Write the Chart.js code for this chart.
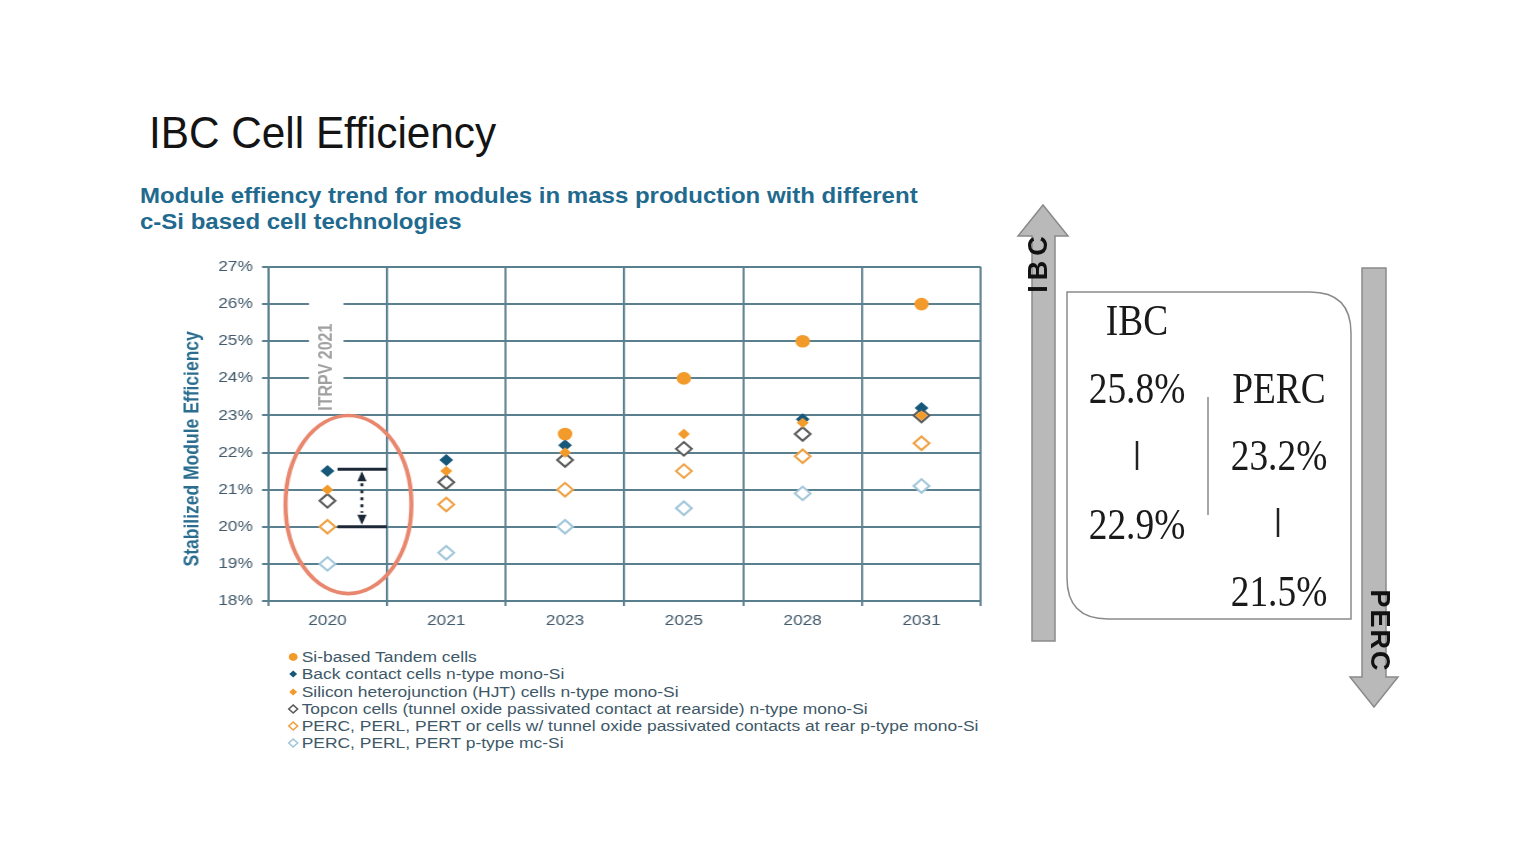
<!DOCTYPE html>
<html>
<head>
<meta charset="utf-8">
<script src="https://cdn.jsdelivr.net/npm/chart.js@4.4.0/dist/chart.umd.min.js"></script>
<style>
  body { margin: 0; background: #fff; width: 1536px; height: 864px; position: relative; overflow: hidden; font-family: "Liberation Sans", Arial, sans-serif; }
  #title { position: absolute; left: 149px; top: 110px; font-size: 45px; line-height: 1; color: #141414; transform: scaleX(0.94); transform-origin: left top; white-space: nowrap; }
  #sub { position: absolute; left: 140px; top: 183px; font-size: 22.5px; font-weight: bold; color: #1f6a8e; line-height: 26px; transform: scaleX(1.067); transform-origin: left top; white-space: nowrap; }
  #wrap { position: absolute; left: 180px; top: 250px; }
  #legend { position: absolute; left: 287px; top: 648px; font-size: 15.5px; color: #3e5867; line-height: 17.3px; transform: scaleX(1.125); transform-origin: left top; }
  #legend div { white-space: nowrap; }
  #legend svg { width: 11px; height: 12px; vertical-align: -1px; margin-right: 2px; }
  #side { position: absolute; left: 0; top: 0; }
</style>
</head>
<body>
<div id="title">IBC Cell Efficiency</div>
<div id="sub">Module effiency trend for modules in mass production with different<br>c-Si based cell technologies</div>
<div id="wrap"><canvas id="chart" width="705" height="391" style="width:811px;height:391px"></canvas></div>
<div id="legend"></div>

<svg id="side" width="1536" height="864" xmlns="http://www.w3.org/2000/svg">
  <!-- up arrow -->
  <polygon points="1032,641 1055,641 1055,236 1068,236 1043,205 1018,236 1032,236" fill="#b9b9b9" stroke="#8a8a8a" stroke-width="1.5"/>
  <text transform="translate(1040,262) rotate(-90)" text-anchor="middle" dominant-baseline="middle" font-family="Liberation Sans" font-weight="bold" font-size="27" letter-spacing="5" fill="#111">IBC</text>
  <!-- down arrow -->
  <polygon points="1362,268 1386,268 1386,677 1398,677 1374,707 1350,677 1362,677" fill="#b9b9b9" stroke="#8a8a8a" stroke-width="1.5"/>
  <text transform="translate(1378,631) rotate(90)" text-anchor="middle" dominant-baseline="middle" font-family="Liberation Sans" font-weight="bold" font-size="27" letter-spacing="2" fill="#111">PERC</text>
  <!-- box -->
  <path d="M1067,292 H1310 Q1351,292 1351,333 V619 H1108 Q1067,619 1067,578 Z" fill="#fff" stroke="#8a8a8a" stroke-width="1.5"/>
  <line x1="1208" y1="397" x2="1208" y2="515" stroke="#888" stroke-width="1.5"/>
  <g font-family="Liberation Serif" font-size="44" fill="#1a1a1a" text-anchor="middle">
    <text transform="translate(1137,335) scale(0.85,1)">IBC</text>
    <text transform="translate(1137,403) scale(0.85,1)">25.8%</text>
    <text transform="translate(1137,539) scale(0.85,1)">22.9%</text>
    <text transform="translate(1279,403) scale(0.85,1)">PERC</text>
    <text transform="translate(1279,470) scale(0.85,1)">23.2%</text>
    <text transform="translate(1279,606) scale(0.85,1)">21.5%</text>
  </g>
  <line x1="1137" y1="441" x2="1137" y2="470" stroke="#222" stroke-width="2.5"/>
  <line x1="1278" y1="508" x2="1278" y2="537" stroke="#222" stroke-width="2.5"/>
</svg>

<script>
const years = ['2020', '2021', '2023', '2025', '2028', '2031'];
const tandem = [null, null, 22.5, 24.0, 25.0, 26.0];
const backContact = [21.5, 21.8, 22.2, null, 22.9, 23.2];
const hjt = [21.0, 21.5, 22.0, 22.5, 22.8, 23.0];
const topcon = [20.7, 21.2, 21.8, 22.1, 22.5, 23.0];
const percMono = [20.0, 20.6, 21.0, 21.5, 21.9, 22.25];
const percMc = [19.0, 19.3, 20.0, 20.5, 20.9, 21.1];
const yTicks = [18, 19, 20, 21, 22, 23, 24, 25, 26, 27];

const seriesNames = [
  'Si-based Tandem cells',
  'Back contact cells n-type mono-Si',
  'Silicon heterojunction (HJT) cells n-type mono-Si',
  'Topcon cells (tunnel oxide passivated contact at rearside) n-type mono-Si',
  'PERC, PERL, PERT or cells w/ tunnel oxide passivated contacts at rear p-type mono-Si',
  'PERC, PERL, PERT p-type mc-Si'
];
const yTitle = 'Stabilized Module Efficiency';

// annotation values (data units)
const ITRPV_MID = 24.3, ITRPV_TOP = 26.5, ITRPV_BOTTOM = 23.05;
const RANGE_HIGH = 21.55, RANGE_LOW = 20.0;
const ELLIPSE_Y = 20.6, ELLIPSE_RY = 2.4;
const Y_TITLE_MID = 22.1;

// the source picture is stretched sideways; canvas is drawn narrow and widened by css
const STRETCH = 1.15;

const orange = '#f29a2a';
const teal = '#17587a';
const grid = '#5a7f8e';

const styles = [
  { pointStyle: 'circle', r: 6.3, fill: orange, stroke: orange, bw: 0, order: 0 },
  { pointStyle: 'rectRot', r: 6, fill: teal, stroke: teal, bw: 0, order: 2 },
  { pointStyle: 'rectRot', r: 5.2, fill: orange, stroke: orange, bw: 0, order: 1 },
  { pointStyle: 'rectRot', r: 6.8, fill: '#fff', stroke: '#5b5b5b', bw: 2, order: 3 },
  { pointStyle: 'rectRot', r: 6.8, fill: '#fff', stroke: '#eea245', bw: 2, order: 4 },
  { pointStyle: 'rectRot', r: 6.8, fill: '#fff', stroke: '#a2c7da', bw: 2, order: 5 }
];
const values = [tandem, backContact, hjt, topcon, percMono, percMc];

const datasets = values.map((d, i) => ({
  label: seriesNames[i],
  data: d,
  showLine: false,
  order: styles[i].order,
  pointStyle: styles[i].pointStyle,
  pointRadius: styles[i].r,
  pointHoverRadius: styles[i].r,
  pointBackgroundColor: styles[i].fill,
  pointBorderColor: styles[i].stroke,
  pointBorderWidth: styles[i].bw,
  borderColor: styles[i].stroke,
  backgroundColor: styles[i].fill
}));

const annot = {
  id: 'annot',
  beforeDatasetsDraw(chart) {
    const { ctx, scales: { x, y } } = chart;
    const cx = x.getPixelForValue(0);
    const top = y.getPixelForValue(ITRPV_TOP);
    const bot = y.getPixelForValue(ITRPV_BOTTOM);
    ctx.save();
    ctx.fillStyle = '#fff';
    ctx.fillRect(cx - 16, top, 30, bot - top);
    ctx.translate(cx - 1, y.getPixelForValue(ITRPV_MID));
    ctx.rotate(-Math.PI / 2);
    ctx.fillStyle = '#a0a0a0';
    ctx.font = 'bold 16px "Liberation Sans"';
    ctx.textAlign = 'center';
    ctx.textBaseline = 'middle';
    ctx.fillText('ITRPV 2021', 0, 0);
    ctx.restore();

    // y axis title, sits a little below the middle of the axis in the source
    ctx.save();
    ctx.translate(y.left + 11.5, y.getPixelForValue(Y_TITLE_MID));
    ctx.rotate(-Math.PI / 2);
    ctx.fillStyle = '#2a6d8f';
    ctx.font = 'bold 17.5px "Liberation Sans"';
    ctx.textAlign = 'center';
    ctx.textBaseline = 'middle';
    ctx.fillText(yTitle, 0, 0);
    ctx.restore();
  },
  afterDatasetsDraw(chart) {
    const { ctx, scales: { x, y } } = chart;
    const cx = x.getPixelForValue(0);
    const cw = x.getPixelForValue(1) - cx;
    // ellipse
    ctx.save();
    ctx.strokeStyle = '#e8876d';
    ctx.lineWidth = 3.6;
    ctx.beginPath();
    ctx.ellipse(cx + 0.177 * cw, y.getPixelForValue(ELLIPSE_Y), 0.53 * cw,
      y.getPixelForValue(ELLIPSE_Y - ELLIPSE_RY) - y.getPixelForValue(ELLIPSE_Y), 0, 0, Math.PI * 2);
    ctx.stroke();
    // bracket
    const yh = y.getPixelForValue(RANGE_HIGH), yl = y.getPixelForValue(RANGE_LOW);
    const x1 = cx + 0.085 * cw, x2 = cx + 0.5 * cw, xa = cx + 0.29 * cw;
    ctx.strokeStyle = '#1c2838';
    ctx.fillStyle = '#1c2838';
    ctx.lineWidth = 3;
    ctx.beginPath();
    ctx.moveTo(x1, yh); ctx.lineTo(x2, yh);
    ctx.moveTo(x1, yl); ctx.lineTo(x2, yl);
    ctx.stroke();
    ctx.beginPath();
    ctx.moveTo(xa, yh + 2); ctx.lineTo(xa - 4, yh + 12); ctx.lineTo(xa + 4, yh + 12); ctx.closePath();
    ctx.moveTo(xa, yl - 2); ctx.lineTo(xa - 4, yl - 12); ctx.lineTo(xa + 4, yl - 12); ctx.closePath();
    ctx.fill();
    ctx.setLineDash([3, 4]);
    ctx.lineWidth = 2.6;
    ctx.beginPath();
    ctx.moveTo(xa, yh + 14); ctx.lineTo(xa, yl - 14);
    ctx.stroke();
    ctx.restore();
  }
};

new Chart(document.getElementById('chart'), {
  type: 'line',
  data: { labels: years, datasets },
  options: {
    responsive: false,
    devicePixelRatio: 1,
    animation: false,
    layout: { padding: { top: 3, right: 10 / STRETCH, left: 0, bottom: 0 } },
    plugins: { legend: { display: false }, tooltip: { enabled: false } },
    scales: {
      x: {
        offset: true,
        grid: { offset: true, color: grid, lineWidth: 1.8, tickLength: 5 },
        border: { color: grid, width: 1.8 },
        ticks: { color: '#41596a', font: { size: 15, family: 'Liberation Sans' }, padding: 6 },
        afterFit: s => { s.height = 40; }
      },
      y: {
        min: 18, max: 27,
        afterBuildTicks: s => { s.ticks = yTicks.map(v => ({ value: v })); },
        grid: { color: grid, lineWidth: 2, tickLength: 6 / STRETCH },
        border: { color: grid, width: 1.8 },
        ticks: { color: '#41596a', font: { size: 15, family: 'Liberation Sans' }, padding: 8, callback: v => v + '%' },
        afterFit: s => { s.width = 88 / STRETCH; }
      }
    }
  },
  plugins: [annot]
});

// legend
const legend = document.getElementById('legend');
styles.forEach((s, i) => {
  const h = s.bw ? 4.3 : 3.8;
  const shape = s.pointStyle === 'circle'
    ? `<circle cx="6" cy="6" r="4.3" fill="${s.fill}"/>`
    : `<polygon points="6,${6 - h} ${6 + h},6 6,${6 + h} ${6 - h},6" fill="${s.fill}" stroke="${s.stroke}" stroke-width="${s.bw ? 1.6 : 0}"/>`;
  const row = document.createElement('div');
  row.innerHTML = `<svg viewBox="0 0 12 12">${shape}</svg>${seriesNames[i]}`;
  legend.appendChild(row);
});
</script>
</body>
</html>
